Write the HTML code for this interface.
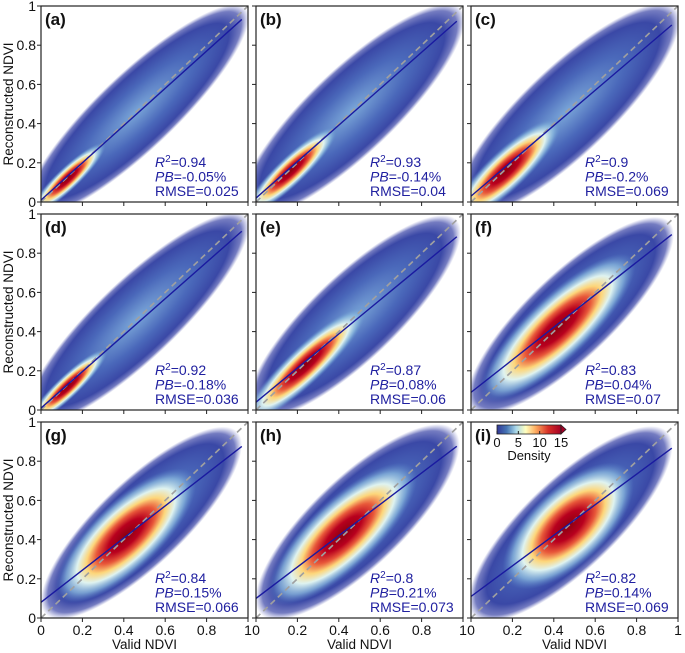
<!DOCTYPE html>
<html><head><meta charset="utf-8">
<style>
html,body{margin:0;padding:0;background:#fff;}
svg{display:block;font-family:"Liberation Sans","DejaVu Sans",sans-serif;}
</style></head>
<body>
<svg id="fig" width="685" height="653" viewBox="0 0 685 653" xmlns="http://www.w3.org/2000/svg">
<defs>
<radialGradient id="heat">
<stop offset="0" stop-color="#8b0010"/>
<stop offset="0.25" stop-color="#b8001e"/>
<stop offset="0.42" stop-color="#e8583a"/>
<stop offset="0.56" stop-color="#fdd67a"/>
<stop offset="0.7" stop-color="#dff3f0"/>
<stop offset="0.85" stop-color="#8fbfe0" stop-opacity="0.7"/>
<stop offset="1" stop-color="#5b86c8" stop-opacity="0"/>
</radialGradient>
<radialGradient id="cloud">
<stop offset="0" stop-color="#7aa6d8"/>
<stop offset="0.5" stop-color="#4a68ba"/>
<stop offset="0.82" stop-color="#3a48a6"/>
<stop offset="0.93" stop-color="#4650ac" stop-opacity="0.75"/>
<stop offset="1" stop-color="#6a70c0" stop-opacity="0"/>
</radialGradient>
<linearGradient id="cbar" x1="0" x2="1">
<stop offset="0" stop-color="#313695"/>
<stop offset="0.15" stop-color="#4575b4"/>
<stop offset="0.3" stop-color="#abd9e9"/>
<stop offset="0.45" stop-color="#ffffbf"/>
<stop offset="0.6" stop-color="#fdae61"/>
<stop offset="0.8" stop-color="#d73027"/>
<stop offset="1" stop-color="#a50026"/>
</linearGradient>
</defs>
<g id="panels"></g>
</svg>
<script>
const labels = ["(a)","(b)","(c)","(d)","(e)","(f)","(g)","(h)","(i)"];
const r2 = ["0.94","0.93","0.9","0.92","0.87","0.83","0.84","0.8","0.82"];
const pb = ["-0.05%","-0.14%","-0.2%","-0.18%","0.08%","0.04%","0.15%","0.21%","0.14%"];
const rmse = ["0.025","0.04","0.069","0.036","0.06","0.07","0.066","0.073","0.069"];
const fitSlope = [0.95,0.93,0.9,0.93,0.87,0.83,0.82,0.80,0.78];
const fitIntercept = [0.01,0.02,0.03,0.01,0.04,0.09,0.08,0.10,0.11];
const cloudStart = [-0.06,-0.06,-0.06,-0.06,-0.02,0.0,0.02,0.02,0.01];
const cloudEnd = [0.99,0.99,0.99,0.99,0.97,0.96,0.95,0.96,0.95];
const cloudWidth = [0.27,0.3,0.31,0.28,0.3,0.3,0.3,0.32,0.32];
const coreX = [0.13,0.17,0.17,0.13,0.24,0.42,0.41,0.42,0.47];
const coreY = [0.12,0.16,0.16,0.12,0.23,0.42,0.42,0.43,0.47];
const coreLen = [0.36,0.44,0.52,0.38,0.58,0.72,0.64,0.68,0.58];
const coreWid = [0.08,0.1,0.14,0.08,0.13,0.22,0.24,0.24,0.27];
const tickVals = [0,0.2,0.4,0.6,0.8,1];
const tickText = ["0","0.2","0.4","0.6","0.8","1"];
const cbTicks = [0,5,10,15];

const colX = [41,256,471], colW = 207;
const rowY = [6,214,422], rowH = 196;
const NS = "http://www.w3.org/2000/svg";
const root = document.getElementById('panels');
function mk(tag, attrs, parent){const e=document.createElementNS(NS,tag);for(const k in attrs)e.setAttribute(k,attrs[k]);(parent||root).appendChild(e);return e;}

for(let i=0;i<9;i++){
  const c=i%3, r=Math.floor(i/3);
  const x0=colX[c], y0=rowY[r], w=colW, h=rowH;
  const sx=v=>x0+v*w, sy=v=>y0+h-v*h;
  const g=mk('g',{});
  
  
  const cp=mk('clipPath',{id:'cp'+i},g);
  mk('rect',{x:x0,y:y0,width:w,height:h},cp);
  const plot=mk('g',{'clip-path':'url(#cp'+i+')'},g);
  const ang=Math.atan2(-h,w)*180/Math.PI;
  const diag=Math.hypot(w,h)/Math.SQRT2;
  const cs=cloudStart[i], ce=cloudEnd[i];
  const cm=(cs+ce)/2;
  const cloud=mk('ellipse',{cx:sx(cm),cy:sy(cm),rx:(ce-cs)/2*diag*Math.SQRT2,ry:cloudWidth[i]*diag/Math.SQRT2,fill:'url(#cloud)',transform:`rotate(${ang} ${sx(cm)} ${sy(cm)})`},plot);
  
  
  const core=mk('ellipse',{cx:sx(coreX[i]),cy:sy(coreY[i]),rx:coreLen[i]/2*diag*Math.SQRT2,ry:coreWid[i]*diag/Math.SQRT2,fill:'url(#heat)',transform:`rotate(${ang} ${sx(coreX[i])} ${sy(coreY[i])})`},plot);
  
  
  const one=mk('line',{x1:sx(0),y1:sy(0),x2:sx(1),y2:sy(1),stroke:'#a0a0a0','stroke-width':1.6,'stroke-dasharray':'6,4'},plot);
  
  
  const xe=0.97;
  const fit=mk('line',{x1:sx(0),y1:sy(fitIntercept[i]),x2:sx(xe),y2:sy(fitIntercept[i]+fitSlope[i]*xe),stroke:'#1a1aa0','stroke-width':1.4},plot);
  
  
  const fr=mk('rect',{x:x0,y:y0,width:w,height:h,fill:'none',stroke:'#222','stroke-width':1.2},g);
  
  
  tickVals.forEach((v,k)=>{
    mk('line',{x1:sx(v),y1:y0+h,x2:sx(v),y2:y0+h+4,stroke:'#222'},g);
    mk('line',{x1:x0-4,y1:sy(v),x2:x0,y2:sy(v),stroke:'#222'},g);
    if(c===0){const t=mk('text',{x:x0-5,y:sy(v)+5,'text-anchor':'end','font-size':14,fill:'#111'},g);t.textContent=tickText[k];
      }
    if(r===2){const t=mk('text',{x:sx(v),y:y0+h+17,'text-anchor':'middle','font-size':14,fill:'#111'},g);t.textContent=tickText[k];
      }
  });
  const lb=mk('text',{x:x0+4,y:y0+19,'font-size':17,'font-weight':'bold',fill:'#111'},g);
  lb.textContent=labels[i];
  
  
  const tx=x0+114;
  const st=mk('text',{x:tx,y:y0+h-35,'font-size':14,fill:'#2020a0'},g);
  
  
  st.innerHTML=`<tspan font-style="italic">R</tspan><tspan dy="-5" font-size="10">2</tspan><tspan dy="5">=${r2[i]}</tspan><tspan x="${tx}" dy="14.5" font-style="italic">PB</tspan><tspan>=${pb[i]}</tspan><tspan x="${tx}" dy="14.5">RMSE=${rmse[i]}</tspan>`;
  if(c===0){const t=mk('text',{x:0,y:0,'font-size':13.5,'text-anchor':'middle',fill:'#111',transform:`translate(13 ${y0+h/2}) rotate(-90)`},g);t.textContent='Reconstructed NDVI';
    }
  if(r===2){const t=mk('text',{x:x0+w/2,y:649,'font-size':13.5,'text-anchor':'middle',fill:'#111'},g);t.textContent='Valid NDVI';
    }
}
const cb=mk('g',{});


const cbx=497, cbw=64, cby=425, cbh=9;
mk('rect',{x:cbx,y:cby,width:cbw,height:cbh,fill:'url(#cbar)',stroke:'#222','stroke-width':0.8},cb);
mk('polygon',{points:`${cbx+cbw},${cby} ${cbx+cbw+5},${cby+cbh/2} ${cbx+cbw},${cby+cbh}`,fill:'#a50026',stroke:'#222','stroke-width':0.8},cb);
cbTicks.forEach(v=>{
  const x=cbx+v/15*cbw;
  mk('line',{x1:x,y1:cby+cbh-3,x2:x,y2:cby+cbh,stroke:'#222'},cb);
  const t=mk('text',{x:x,y:cby+cbh+13,'font-size':13,'text-anchor':'middle',fill:'#111'},cb);
  t.textContent=String(v);
  
  
});
const ct=mk('text',{x:cbx+cbw/2,y:cby+cbh+26,'font-size':13,'text-anchor':'middle',fill:'#111'},cb);
ct.textContent='Density';


</script>
</body></html>
